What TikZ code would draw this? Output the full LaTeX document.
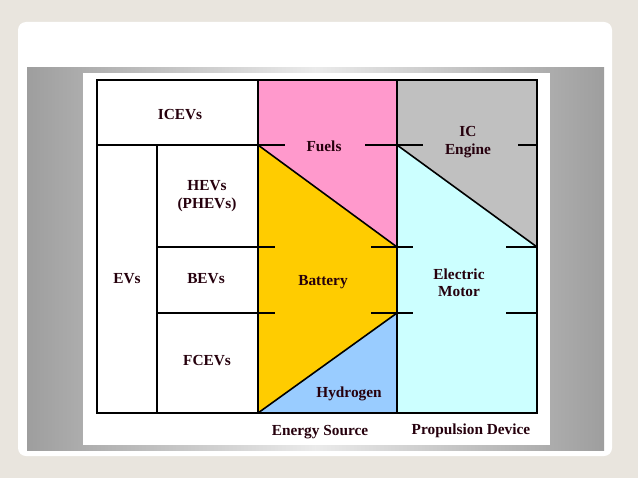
\documentclass[tikz,border=0pt]{standalone}
\usepackage{fontspec}
\setmainfont{Liberation Serif}
\begin{document}
\begin{tikzpicture}[x=0.75pt,y=-0.75pt,
  lbl/.style={font=\bfseries\fontsize{11.5}{13}\selectfont,text=black!80!purple,align=center,inner sep=0pt},
  edge/.style={line width=2pt,black},
  tick/.style={line width=1.5pt,black}]
\useasboundingbox (0,0) rectangle (638,478);
\fill[fill={rgb,255:red,233;green,229;blue,222}] (0,0) rectangle (638,478);
\fill[white,rounded corners=6pt] (18,22) rectangle (612,456);
\shade[left color=black!38,right color=black!8] (27,68) rectangle (316,450);
\shade[left color=black!8,right color=black!38] (315,68) rectangle (604,450);
\fill[white] (83,73) rectangle (550,445);
% colored regions
\fill[fill={rgb,255:red,255;green,153;blue,204}] (258,80) -- (397,80) -- (397,247) -- (258,145) -- cycle;
\fill[fill={rgb,255:red,255;green,204;blue,0}] (258,145) -- (397,247) -- (397,313) -- (258,413) -- cycle;
\fill[fill={rgb,255:red,153;green,204;blue,255}] (258,413) -- (397,313) -- (397,413) -- cycle;
\fill[fill={rgb,255:red,192;green,192;blue,192}] (397,80) -- (537,80) -- (537,247) -- (397,145) -- cycle;
\fill[fill={rgb,255:red,204;green,255;blue,255}] (397,145) -- (537,247) -- (537,413) -- (397,413) -- cycle;
% lines
\draw[edge] (97,80) rectangle (537,413);
\draw[edge] (157,145) -- (157,413);
\draw[edge] (258,80) -- (258,413);
\draw[edge] (397,80) -- (397,413);
\draw[edge] (97,145) -- (258,145);
\draw[edge] (157,247) -- (258,247);
\draw[edge] (157,313) -- (258,313);
\draw[line width=1.2pt] (258,145) -- (397,247);
\draw[line width=1.2pt] (397,145) -- (537,247);
\draw[line width=1.2pt] (397,313) -- (258,413);
% ticks
\draw[tick] (258,145) -- (285,145) (365,145) -- (423,145) (518,145) -- (537,145);
\draw[tick] (258,247) -- (275,247) (371,247) -- (413,247) (506,247) -- (537,247);
\draw[tick] (258,313) -- (275,313) (371,313) -- (413,313) (506,313) -- (537,313);
% labels
\node[lbl] (icevs) at (180,115) {ICEVs};
\node[lbl] (evs) at (127,279) {EVs};
\node[lbl] (hevs) at (207,196) {HEVs\\(PHEVs)};
\node[lbl] (bevs) at (206,279) {BEVs};
\node[lbl] (fcevs) at (207,361) {FCEVs};
\node[lbl] (fuels) at (324,146) {Fuels};
\node[lbl] (ic) at (468,142) {IC\\Engine};
\node[lbl] (batt) at (323,282) {Battery};
\node[lbl] (h2) at (349,394) {Hydrogen};
\node[lbl] (em) at (459,283) {Electric\\Motor};
\node[lbl] (es) at (320,432) {Energy Source};
\node[lbl] (pd) at (471,431) {Propulsion Device};
\end{tikzpicture}
\end{document}
